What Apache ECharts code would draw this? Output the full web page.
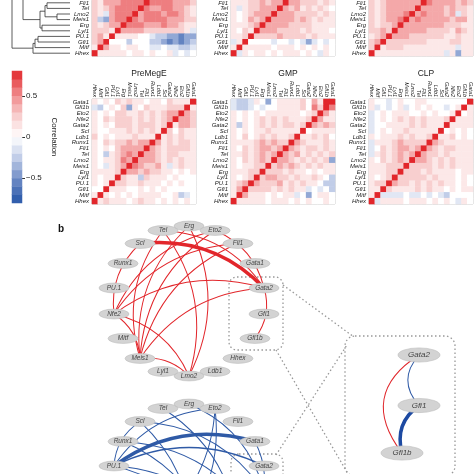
<!DOCTYPE html>
<html><head><meta charset="utf-8">
<script src="https://cdn.jsdelivr.net/npm/echarts@6/dist/echarts.min.js"></script>
<style>html,body{margin:0;padding:0;background:#fff}#c{width:474px;height:474px}</style>
</head><body><div id="c"></div>
<script>
const rowsFull=['Gata1','Gfi1b','Eto2','Nfe2','Gata2','Scl','Ldb1','Runx1','Fli1','Tel','Lmo2','Meis1','Erg','Lyl1','PU.1','Gfi1','Mitf','Hhex'];
const cols=['Hhex','Mitf','Gfi1','PU.1','Lyl1','Erg','Meis1','Lmo2','Tel','Fli1','Runx1','Ldb1','Scl','Gata2','Nfe2','Eto2','Gfi1b','Gata1'];
const rowsTop=rowsFull.slice(8);
const levels={'0':0,'1':0.12,'2':0.25,'3':0.4,'4':0.55,'5':0.85,'a':-0.12,'b':-0.25,'c':-0.4,'d':-0.55};
const topA=["213334444544443332","212344445433443321","21a344453444344321","2bc344543444433322","212335444333433211","22215333322222221a","2315111100abbccdcc","235000b000bbcdcdcb","1531101100aa0aabba","51111101101001a0a0"];
const topB=["111223233533222121","1a1223335323121210","101233353332222121","101323533332321211","111235333322221111","102153332222121110","112522223222212111","a150000a00a0aca0a0","151111101110101010","5a1011010111010a10"];
const topC=["212333333543333232","212333335333323221","212333453433323a21","212334534333332331","212235333333322211","223253333322221321","123533322222211211","235222222211112211","251222111111111a11","5111111111111a1c11"];
const preMegE=["101021211011021115","ab0102c10211122251","101022112121233532","102122212121235332","101022212221251332","100111212121520211","201011121115121211","102122323353121221","101023333532122221","10b123435332122111","101124353332121211","10a1235432231a1211","111125332322110101","10115211b211101000","101522112111010100","005111001010100000","151010101111001ba0","512111012110101010"];
const gmp=["abba10c01111203155","abba0a001111204254","101010111111012531","101012121211125311","1b1012121221253232","101011211111501111","102012121125112120","111123232253211121","102123323532122121","112123235323121212","10212325332121212c","101122523232121211","111225222121101011","10125233221211210b","1235322231212110bb","1352222121211a0a0b","15311101011a0c0110","511111011101010010"];
const clp=["100a01001100000005","1a0a01a010100a0151","a01011100101001501","a01012121211125111","a00111121211151111","a01011211111501010","101112121125112010","a11123222253211111","a02123323532122111","a12123235322121111","102123253321212111","111222522221212111","111225222121111011","101252222212111010","122532212121211010","115211112121101011","15aaaa0aa0a0ab0000","5a1111011101010a10"];
const titles=['PreMegE','GMP','CLP'];
const cbSteps=[-0.75,-0.65,-0.55,-0.45,-0.35,-0.25,-0.15,-0.05,0.05,0.15,0.25,0.35,0.45,0.55,0.65,0.75];
const cbTicks=[-0.5,0,0.5];
// dendrogram links: [height, y1, y2, childHeight1, childHeight2]
const dendro=[[13,2,3,0,0],[23,0,1,0,0],[25,0.5,2.5,23,13],[28,4,5,0,0],[30,1.5,4.5,25,28],[47,-6,3,60,30],[32,6,7,0,0],[35,6.5,8,32,0],[37,7.25,9,35,0],[58,-8,8.1,62,37]];
const netNodes=['Tel','Erg','Eto2','Fli1','Gata1','Gata2','Gfi1','Gfi1b','Hhex','Ldb1','Lmo2','Lyl1','Meis1','Mitf','Nfe2','PU.1','Runx1','Scl'];
const redEdges=[['Scl','Gata2',3.5],['Nfe2','Scl',1],['Nfe2','Fli1',1],['Nfe2','Eto2',1],['Nfe2','Gata2',1],['Nfe2','Meis1',1],['Nfe2','Lmo2',1],['Meis1','Tel',1],['Meis1','Erg',1],['Meis1','Eto2',1],['Meis1','Fli1',1],['Meis1','Gata2',1],['Meis1','Lmo2',1],['Tel','Gata2',1],['Tel','Lmo2',1],['Erg','Lmo2',1],['Eto2','Gata2',1],['Gata2','Gfi1b',1]];
const blueEdges=[['PU.1','Gata1',3.5],['PU.1','Scl',1],['PU.1','Eto2',1],['PU.1','Gata2',1.5],['PU.1','Ldb1',1],['PU.1','Hhex',1],['Scl','Lmo2',1],['Scl','Gfi1',1],['Runx1','Ldb1',1],['Eto2','Meis1',1],['Eto2','Lyl1',1],['Erg','Gfi1',1],['Gata1','Gfi1b',1],['Runx1','Gfi1b',1],['Tel','Hhex',1]];
const insetNodes=['Gata2','Gfi1','Gfi1b'];
const insetEdges=[['Gata2','Gfi1b',1,'#e0262b',-0.55],['Gata2','Gfi1',1,'#2f5aa6',-0.45],['Gfi1','Gfi1b',3.5,'#1d4aa2',-0.35]];

function toData(m){const d=[];m.forEach((s,r)=>{for(let c=0;c<s.length;c++)d.push([c,r,levels[s[c]]]);});return d;}
const lefts=[92,231,369], W=104;
const grids=[],xAxes=[],yAxes=[],series=[];
const gs={show:true,borderColor:'#999',borderWidth:0.6,backgroundColor:'transparent'};
function addHeat(m,left,top,h,rows,showCols){
  const i=grids.length;
  grids.push(Object.assign({left:left,top:top,width:W,height:h},gs));
  xAxes.push({gridIndex:i,type:'category',data:cols,position:'top',axisLine:{show:false},axisTick:{show:false},
    axisLabel:{show:showCols,rotate:90,fontSize:5.5,fontStyle:'italic',color:'#222',margin:2,interval:0}});
  yAxes.push({gridIndex:i,type:'category',data:rows,inverse:true,axisLine:{show:false},axisTick:{show:false},
    axisLabel:{fontSize:6,fontStyle:'italic',color:'#222',margin:3,interval:0}});
  series.push({type:'heatmap',xAxisIndex:i,yAxisIndex:i,data:toData(m),itemStyle:{borderWidth:0}});
}
[topA,topB,topC].forEach((m,k)=>addHeat(m,lefts[k],-1,57,rowsTop,false));
[preMegE,gmp,clp].forEach((m,k)=>addHeat(m,lefts[k],99,105,rowsFull,true));
let ci=grids.length;
grids.push({left:12,top:71,width:10,height:132});
xAxes.push({gridIndex:ci,type:'category',data:[''],show:false});
yAxes.push({gridIndex:ci,type:'category',data:cbSteps.map(String),show:false});
series.push({type:'heatmap',xAxisIndex:ci,yAxisIndex:ci,data:cbSteps.map((v,j)=>[0,j,v])});
xAxes.push({gridIndex:ci,type:'value',show:false,min:0,max:1});
yAxes.push({gridIndex:ci,type:'value',min:-0.8,max:0.8,position:'right',splitLine:{show:false},axisLine:{show:false},
  axisTick:{show:true,length:3,customValues:cbTicks,lineStyle:{color:'#333'}},
  axisLabel:{customValues:cbTicks,fontSize:8,color:'#222',margin:4,formatter:v=>v<0?'\u2212'+Math.abs(v):String(v)},
  name:'Correlation',nameLocation:'middle',nameRotate:-90,nameGap:28,nameTextStyle:{fontSize:8,color:'#222'}});
let di=grids.length;
grids.push({left:8,top:-1,width:62,height:57});
xAxes.push({gridIndex:di,type:'value',min:0,max:62,inverse:true,show:false});
yAxes.push({gridIndex:di,type:'value',min:-0.5,max:9.5,inverse:true,show:false});
series.push({type:'custom',xAxisIndex:xAxes.length-1,yAxisIndex:yAxes.length-1,clip:true,data:dendro,
  renderItem:(p,api)=>{const h=api.value(0),y1=api.value(1),y2=api.value(2),a=api.value(3),b=api.value(4);
    const pts=[api.coord([a,y1]),api.coord([h,y1]),api.coord([h,y2]),api.coord([b,y2])];
    return {type:'polyline',shape:{points:pts},style:{stroke:'#333',lineWidth:0.8,fill:null}};}});
function circ(names,startIdx,stepDeg,startDeg){return names.map((n,i)=>{const a=(startDeg+(i-startIdx)*stepDeg)*Math.PI/180;return {name:n,x:Math.cos(a),y:Math.sin(a)};});}
function net(nodes,edges,color,top,size,fs,curv){
  return {type:'graph',layout:'none',left:nodes.box[0],top:top,width:nodes.box[1],height:nodes.box[2],roam:false,silent:true,
    symbol:'circle',symbolSize:size,itemStyle:{color:'#d3d3d3',borderColor:'#bbb',borderWidth:0.5},
    label:{show:true,position:'inside',fontSize:fs,fontStyle:'italic',color:'#444'},
    data:nodes.list,
    links:edges.map(e=>({source:e[0],target:e[1],lineStyle:{width:e[2],color:e[3]||color,curveness:e[4]!==undefined?e[4]:curv}})),
    lineStyle:{opacity:1}};
}
const ring={list:circ(netNodes,1,20,-90),box:[114,150,150]};
series.push(net(ring,redEdges,'#e2262b',226,[30,10],6.5,0.25));
series.push(net(ring,blueEdges,'#2f5aa6',404,[30,10],6.5,0.25));
const inset={list:circ(insetNodes,1,20,10),box:[402,17,98]};
series.push(net(inset,insetEdges,'#333',355,[42,14],8,0));
const dot={stroke:'#999',lineWidth:1.3,lineDash:[1.5,2.5],fill:null};
const chart=echarts.init(document.getElementById('c'));
chart.setOption({animation:false,grid:grids,xAxis:xAxes,yAxis:yAxes,series:series,
  title:titles.map((t,k)=>({text:t,left:lefts[k]+W/2,top:64,textAlign:'center',textStyle:{fontSize:8.5,fontWeight:'normal',color:'#222'}})),
  visualMap:{type:'continuous',show:false,min:-0.8,max:0.8,seriesIndex:[0,1,2,3,4,5,6],
    inRange:{color:['#2656a8','#6786c3','#bdcae6','#ffffff','#f8cccc','#ef8486','#e2262b']}},
  graphic:[
    {type:'text',left:58,top:224,style:{text:'b',font:'bold 10px Liberation Sans',fill:'#111'}},
    {type:'rect',shape:{x:229,y:277,width:54,height:73,r:8},style:dot,z:-1},
    {type:'rect',shape:{x:231,y:454,width:52,height:40,r:8},style:dot,z:-1},
    {type:'rect',shape:{x:345,y:336,width:110,height:140,r:10},style:dot,z:-1},
    {type:'line',shape:{x1:283,y1:285,x2:354,y2:337},style:dot},
    {type:'line',shape:{x1:276,y1:350,x2:348,y2:474},style:dot},
    {type:'line',shape:{x1:276,y1:455,x2:347,y2:345},style:dot}
  ]});
</script></body></html>
